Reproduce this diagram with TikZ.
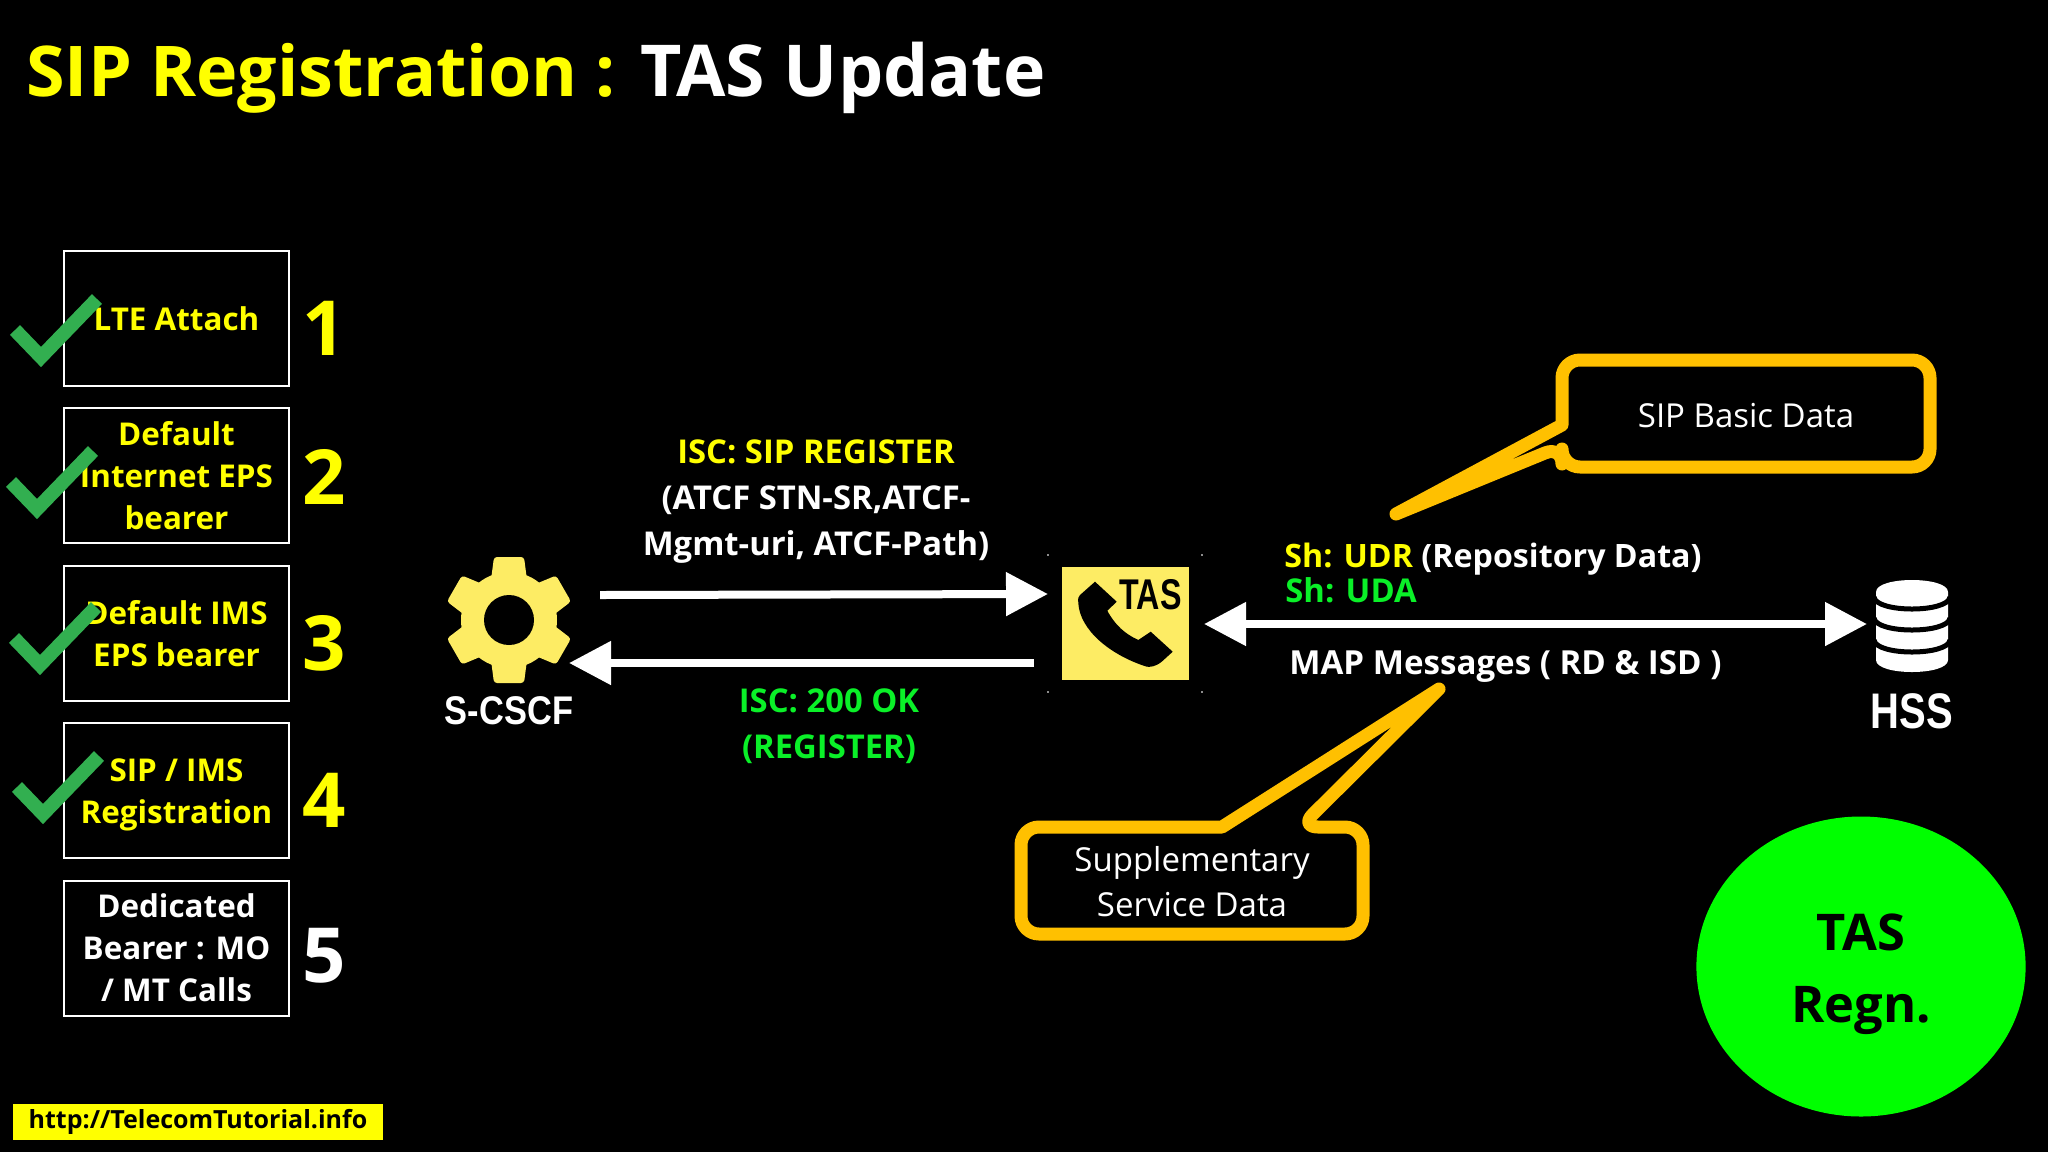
\documentclass[tikz,border=0pt]{standalone}
\usepackage{fontspec}
\setmainfont{Open Sans}
\newfontfamily\arialfont{Liberation Sans}
\definecolor{txtY}{RGB}{255,255,0}
\definecolor{txtG}{RGB}{10,240,40}
\definecolor{tile}{RGB}{253,236,100}
\definecolor{coutl}{RGB}{255,192,0}
\definecolor{tick}{RGB}{50,175,80}
\definecolor{regn}{RGB}{0,255,0}
\usetikzlibrary{positioning,arrows.meta,shapes.geometric}

\begin{document}
\begin{tikzpicture}[
  x=0.5pt, y=-0.5pt,
  font=\fontsize{15.7}{21}\selectfont\bfseries,
  stepbox/.style={draw=white, line width=1pt, minimum width=112.5pt, minimum height=67.5pt, inner sep=0pt, align=center, text=txtY},
  num/.style={font=\fontsize{38}{38}\selectfont\bfseries, text=txtY, inner sep=0pt},
  lab/.style={font=\fontsize{16.4}{23}\selectfont\bfseries, text=white, align=center, inner sep=0pt},
  cnote/.style={font=\fontsize{16.5}{22.5}\selectfont, text=white, align=center, inner sep=0pt},
  ent/.style={text=white, inner sep=0pt},
  arr/.style={-{Triangle[length=21pt,width=21pt]}, line width=4pt, white},
  darr/.style={{Triangle[length=21pt,width=21pt]}-{Triangle[length=21pt,width=21pt]}, line width=4pt, white},
  callout/.style={draw=coutl, line width=6.5pt, line join=round},
  chk/.style={draw=tick, line width=7pt}]
\fill[black] (0,0) rectangle (2048,1152);
\useasboundingbox (0,0) rectangle (2048,1152);
% title
\node[anchor=base west, inner sep=0pt, font=\fontsize{35}{36}\selectfont\bfseries] (title) at (26,96)
  {\textcolor{txtY}{SIP Registration :} {\fontsize{35.8}{36}\selectfont\textcolor{white}{TAS Update}}};
% steps
\node[stepbox] (s1) at (176.5,318.5) {LTE Attach};
\node[stepbox, below=10.2pt of s1] (s2) {Default\\Internet EPS\\bearer};
\node[stepbox, below=10.2pt of s2] (s3) {Default IMS\\EPS bearer};
\node[stepbox, below=10.2pt of s3] (s4) {\rule{0pt}{16pt}SIP / IMS\\Registration};
\node[stepbox, below=10.2pt of s4, text=white] (s5) {Dedicated\\Bearer : MO\\/ MT Calls};
\node[num] (n1) at (324,328) {1};
\node[num] (n2) at (324,477) {2};
\node[num] (n3) at (324,643) {3};
\node[num] (n4) at (324,800) {4};
\node[num, text=white] (n5) at (324,956) {5};
\foreach \dx/\dy in {0/0, -4/152, -1/308, 2/457}
  \draw[chk] (15+\dx,330+\dy) -- (41+\dx,357+\dy) -- (97+\dx,299+\dy);
% s-cscf gear
\foreach \a in {0,60,...,300}
  \fill[tile, rotate around={\a:(509,620)}, rounded corners=1.5pt] (491,580) -- (494,557) -- (524,557) -- (527,580) -- cycle;
\node[circle, fill=tile, minimum size=48pt, inner sep=0pt] (scscf) at (509,620) {};
\node[circle, fill=black, minimum size=25pt, inner sep=0pt] (hole) at (scscf) {};
\node[ent, font=\arialfont\fontsize{20}{20}\selectfont\bfseries] (scscfL) at (509,711) {\scalebox{.86}[1]{S-CSCF}};
% tas
\node[fill=tile, minimum width=63.5pt, minimum height=56.5pt, inner sep=0pt] (tas) at (1125.5,623.5) {};
\fill[black] (1095,581.7) -- (1116.7,601.7) -- (1107.3,610.7)
  .. controls (1115,625) and (1125,634) .. (1138.3,640) -- (1150.7,631.7) -- (1172.7,651.7) -- (1161.7,661.7)
  .. controls (1155,667) and (1150,667) .. (1146.7,666.7)
  .. controls (1110,655) and (1080,630) .. (1078.3,603.3)
  .. controls (1078,598) and (1078,597) .. (1080,595) -- cycle;
\node[inner sep=0pt, text=black, font=\arialfont\fontsize{21.5}{21.5}\selectfont\bfseries] (tasL) at (1150.5,595) {\scalebox{.75}[1]{TAS}};
\foreach \px/\py in {1048/555, 1202/555, 1048/692, 1202/692}
  \fill[black!45] (\px-1,\py-1) rectangle (\px+1,\py+1);
% hss
\fill[white] (1876,592) .. controls (1876,576) and (1948,576) .. (1948,592) -- (1948,660)
  .. controls (1948,676) and (1876,676) .. (1876,660) -- cycle;
\foreach \yy in {597,618,640}
  \draw[black, line width=2.5pt] (1874,\yy) .. controls (1876,\yy+16) and (1948,\yy+16) .. (1950,\yy);
\node[ent, font=\arialfont\fontsize{25}{25}\selectfont\bfseries] (hssL) at (1912,711) {\scalebox{.8}[1]{HSS}};
% messages
\coordinate (regA) at (600,595);
\coordinate (regB) at (1048,594);
\coordinate (okA) at (1034,663);
\coordinate (okB) at (569,663);
\coordinate (mapA) at (1204,624);
\coordinate (mapB) at (1867,624);
\draw[arr] (regA) -- (regB);
\draw[arr] (okA) -- (okB);
\draw[darr] (mapA) -- (mapB);
\node[lab] (reg) at (816,502) {\textcolor{txtY}{ISC: SIP REGISTER}\\(ATCF STN-SR,ATCF-\\Mgmt-uri, ATCF-Path)};
\node[lab, text=txtG] (ok) at (829,726.5) {ISC: 200 OK\\(REGISTER)};
\node[lab, anchor=west, font=\fontsize{16.1}{23}\selectfont\bfseries] (udr) at (1284,559) {\textcolor{txtY}{Sh: UDR} (Repository Data)};
\node[lab, anchor=west, text=txtG] (uda) at (1285,590) {Sh: UDA};
\node[lab, anchor=west, font=\fontsize{16.55}{23}\selectfont\bfseries] (map) at (1289,666) {MAP Messages ( RD \& ISD )};
% callouts
\draw[callout] (1396,514) -- (1562,425) [rounded corners=9pt] -- (1562,360) -- (1930,360) -- (1930,467) -- (1562,467) -- (1562,446) [sharp corners] -- cycle;
\node[cnote] (basic) at (1746,416) {SIP Basic Data};
\draw[callout] (1439,689) -- (1222,827) [rounded corners=9pt] -- (1021,827) -- (1021,934) -- (1363,934) -- (1363,827) -- (1300,827) [sharp corners] -- cycle;
\node[cnote] (supp) at (1192,882) {Supplementary\\Service Data};
% regn
\node[ellipse, fill=regn, minimum width=164.6pt, minimum height=150pt, inner sep=0pt] (done) at (1861,966.5) {};
\node[inner sep=0pt, align=center, text=black, font=\fontsize{25.3}{36}\selectfont\bfseries] (doneL) at (1861,974) {TAS\\Regn.};
% url
\node[fill=txtY, minimum width=185pt, minimum height=18pt, inner sep=0pt, text=black, font=\fontsize{12.5}{14}\selectfont\bfseries] (url) at (198,1122) {\raisebox{-1pt}{http://TelecomTutorial.info}};
\end{tikzpicture}
\end{document}
